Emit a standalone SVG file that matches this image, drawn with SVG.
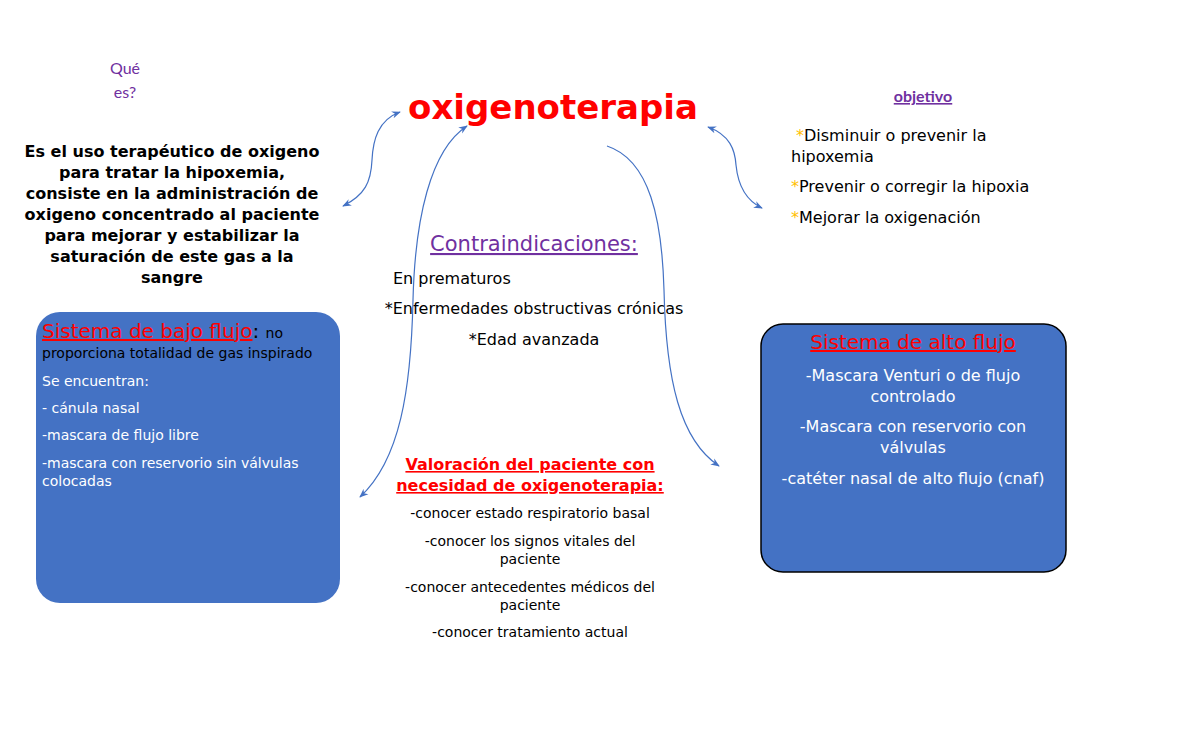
<svg xmlns="http://www.w3.org/2000/svg" width="1200" height="729" viewBox="0 0 1200 729">
<style>
text{font-family:"DejaVu Sans",sans-serif;}
.b{font-weight:bold;font-size:16px;fill:#000;}
.n{font-size:16px;fill:#000;}
.w{font-size:14px;fill:#fff;}
.w2{font-size:16px;fill:#fff;}
.c{stroke:#4472C4;stroke-width:1.2;fill:none;}
.y{fill:#FFC000;}
</style>
<defs>
<marker id="ah" viewBox="0 0 10 10" refX="9" refY="5" markerWidth="9" markerHeight="9" orient="auto-start-reverse" markerUnits="userSpaceOnUse"><path d="M0,1 L10,5 L0,9 L3,5 Z" fill="#4472C4"/></marker>
</defs>
<rect width="1200" height="729" fill="#fff"/>
<g id="title"><text x="553" y="119" text-anchor="middle" font-size="34" font-weight="bold" fill="#FF0000">oxigenoterapia</text></g>
<g id="que"><text x="125" y="74" text-anchor="middle" font-size="16" fill="#7030A0" style="font-family:Lato,sans-serif">Qué</text><text x="125" y="98" text-anchor="middle" font-size="16" fill="#7030A0" style="font-family:Lato,sans-serif">es?</text></g>
<g id="def" text-anchor="middle">
<text class="b" x="172" y="157">Es el uso terapéutico de oxigeno</text>
<text class="b" x="172" y="178">para tratar la hipoxemia,</text>
<text class="b" x="172" y="199">consiste en la administración de</text>
<text class="b" x="172" y="220">oxigeno concentrado al paciente</text>
<text class="b" x="172" y="241">para mejorar y estabilizar la</text>
<text class="b" x="172" y="262">saturación de este gas a la</text>
<text class="b" x="172" y="283">sangre</text>
</g>
<g id="objetivo">
<text x="923" y="102" text-anchor="middle" font-size="16" font-weight="bold" fill="#7030A0" text-decoration="underline" style="font-family:Lato,sans-serif">objetivo</text>
<text class="n" x="796" y="141"><tspan class="y">*</tspan>Disminuir o prevenir la</text>
<text class="n" x="791" y="162">hipoxemia</text>
<text class="n" x="791" y="192"><tspan class="y">*</tspan>Prevenir o corregir la hipoxia</text>
<text class="n" x="791" y="223"><tspan class="y">*</tspan>Mejorar la oxigenación</text>
</g>
<g id="contra">
<text x="534" y="251" text-anchor="middle" font-size="21" fill="#7030A0" text-decoration="underline">Contraindicaciones:</text>
<text class="n" x="393" y="284">En prematuros</text>
<text class="n" x="534" y="314" text-anchor="middle">*Enfermedades obstructivas crónicas</text>
<text class="n" x="534" y="345" text-anchor="middle">*Edad avanzada</text>
</g>
<g id="bajo">
<rect x="36" y="312" width="304" height="291" rx="24" fill="#4472C4"/>
<text x="42" y="338"><tspan font-size="20" fill="#FF0000" text-decoration="underline">Sistema de bajo flujo</tspan><tspan font-size="20" fill="#000">: </tspan><tspan font-size="14" fill="#000">no</tspan></text>
<text x="42" y="358" font-size="14" fill="#000">proporciona totalidad de gas inspirado</text>
<text class="w" x="42" y="386">Se encuentran:</text>
<text class="w" x="42" y="413">- cánula nasal</text>
<text class="w" x="42" y="440">-mascara de flujo libre</text>
<text class="w" x="42" y="468">-mascara con reservorio sin válvulas</text>
<text class="w" x="42" y="486">colocadas</text>
</g>
<g id="alto">
<rect x="761" y="324" width="305" height="248" rx="22" fill="#4472C4" stroke="#000" stroke-width="1.5"/>
<text x="913" y="349" text-anchor="middle" font-size="20" fill="#FF0000" text-decoration="underline">Sistema de alto flujo  </text>
<text class="w2" x="913" y="381" text-anchor="middle">-Mascara Venturi o de flujo</text>
<text class="w2" x="913" y="402" text-anchor="middle">controlado</text>
<text class="w2" x="913" y="432" text-anchor="middle">-Mascara con reservorio con</text>
<text class="w2" x="913" y="453" text-anchor="middle">válvulas</text>
<text class="w2" x="913" y="484" text-anchor="middle">-catéter nasal de alto flujo (cnaf)</text>
</g>
<g id="valoracion" text-anchor="middle">
<text x="530" y="470" font-size="16" font-weight="bold" fill="#FF0000" text-decoration="underline">Valoración del paciente con</text>
<text x="530" y="491" font-size="16" font-weight="bold" fill="#FF0000" text-decoration="underline">necesidad de oxigenoterapia:</text>
<text x="530" y="518" font-size="14" fill="#000">-conocer estado respiratorio basal</text>
<text x="530" y="546" font-size="14" fill="#000">-conocer los signos vitales del</text>
<text x="530" y="564" font-size="14" fill="#000">paciente</text>
<text x="530" y="592" font-size="14" fill="#000">-conocer antecedentes médicos del</text>
<text x="530" y="610" font-size="14" fill="#000">paciente</text>
<text x="530" y="637" font-size="14" fill="#000">-conocer tratamiento actual</text>
</g>
<g id="connectors">
<path class="c" d="M400,112 C378,120 373,140 372,160 C371,182 365,195 343,206" marker-start="url(#ah)" marker-end="url(#ah)"/>
<path class="c" d="M467,126 C430,150 415,220 413,300 C411,390 400,460 360,497" marker-start="url(#ah)" marker-end="url(#ah)"/>
<path class="c" d="M607,146 C650,160 662,220 664,290 C666,380 680,440 719,466" marker-end="url(#ah)"/>
<path class="c" d="M708,127 C730,135 735,150 736,165 C738,185 745,200 762,208" marker-start="url(#ah)" marker-end="url(#ah)"/>
</g>
</svg>
